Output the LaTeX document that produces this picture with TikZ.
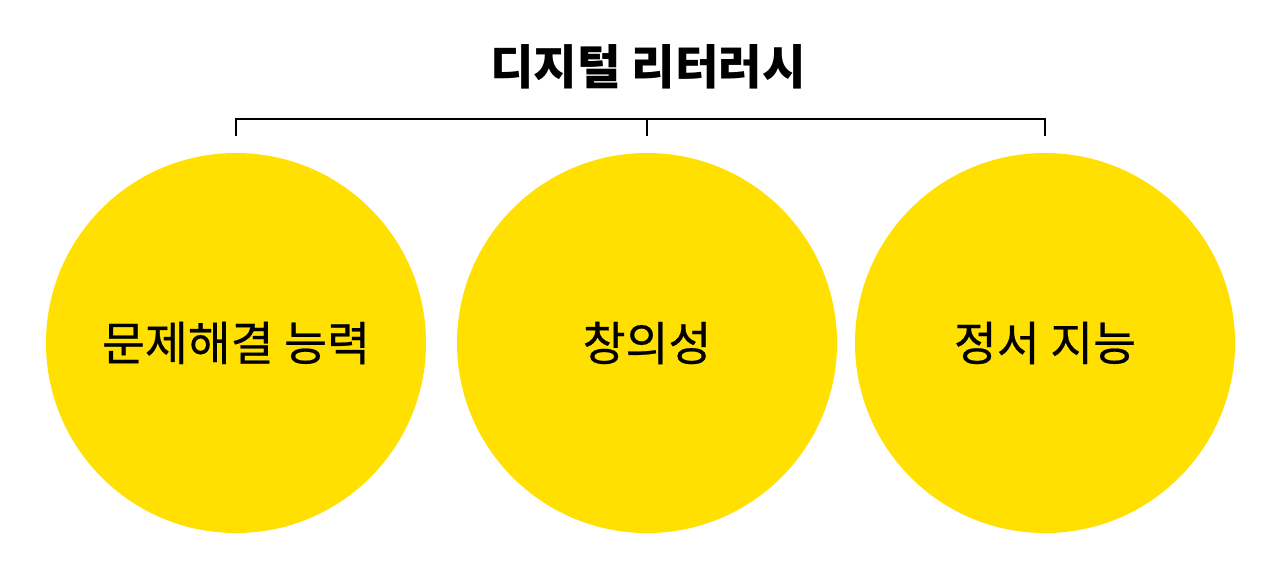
\documentclass[tikz,border=0pt]{standalone}
\usepackage{fontspec}
\setmainfont{Noto Sans CJK KR}
\newfontfamily\medfont[FakeBold=0.5]{Noto Sans CJK KR}
\usetikzlibrary{calc}
\definecolor{circyellow}{HTML}{FFE000}

\begin{document}
\begin{tikzpicture}[x=0.75pt,y=-0.75pt]
\tikzset{
  bubble/.style={circle,fill=circyellow,minimum size=285pt,inner sep=0pt,font=\medfont\fontsize{35}{40}\selectfont},
  bracketline/.style={black,line width=1.5pt}
}
\useasboundingbox[fill=white] (0,0) rectangle (1280,579);
\node[font=\fontsize{35.5}{40}\selectfont\bfseries] (title) at (648,67) {디지털 리터러시};
\node[bubble] (solve) at (236,343) {문제해결 능력};
\node[bubble] (create) at (647,343) {창의성};
\node[bubble] (emote) at (1045,343) {정서 지능};
\coordinate (tl) at ($(solve.north)+(0,-17)$);
\coordinate (tm) at ($(create.north)+(0,-17)$);
\coordinate (tr) at ($(emote.north)+(0,-17)$);
\draw[bracketline] (tl) -- ++(0,-17) -| (tr);
\draw[bracketline] (tm) -- ++(0,-17);
\end{tikzpicture}
\end{document}
